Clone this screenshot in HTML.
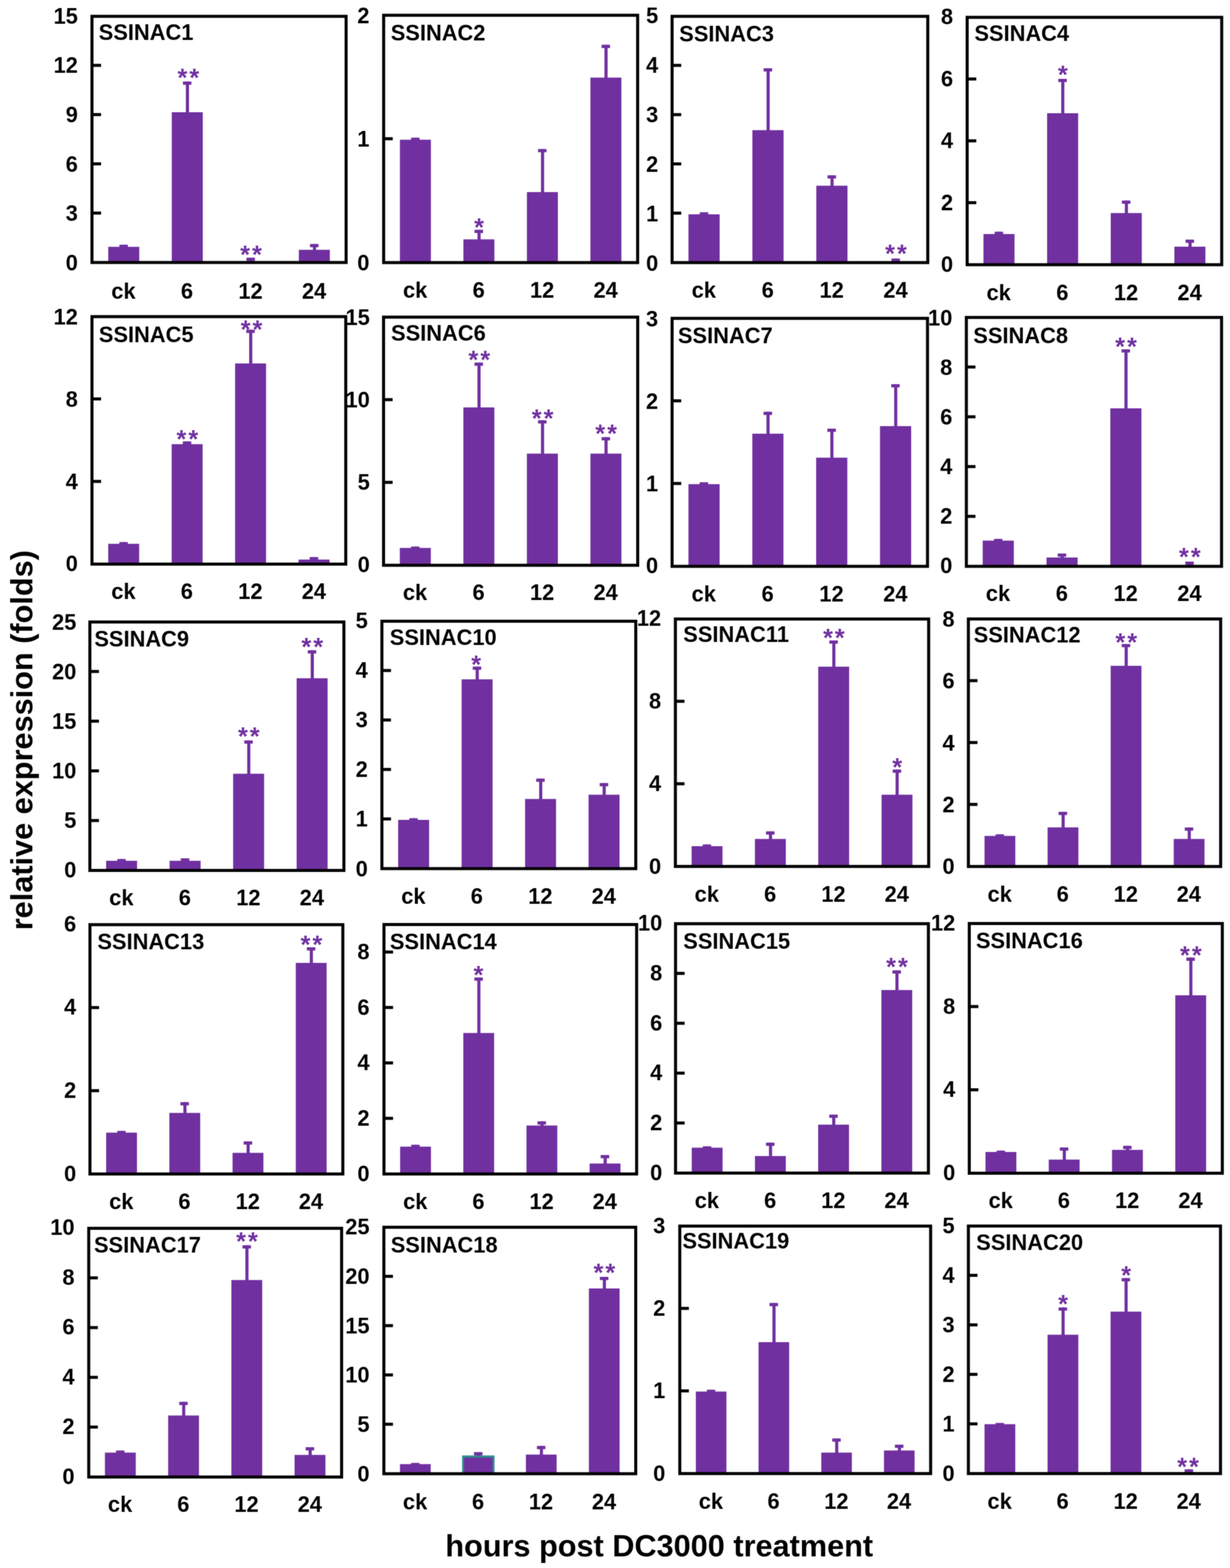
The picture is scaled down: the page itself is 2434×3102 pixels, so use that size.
<!DOCTYPE html>
<html lang="en"><head><meta charset="utf-8"><title>SSINAC expression after DC3000 treatment</title>
<style>html,body{margin:0;padding:0;background:#fff}body{width:2434px;height:3102px;overflow:hidden}svg{display:block}text{font-family:"Liberation Sans",sans-serif;font-weight:bold;fill:#000}.l{font-size:44.6px}.s{fill:#7030A0;font-size:50px;letter-spacing:4px}.a{font-size:60.7px}.p{fill:#7030A0}.k{fill:#000}.f{fill:none;stroke:#000;stroke-width:6}</style></head><body>
<svg width="2434" height="3102" viewBox="0 0 2434 3102">
<defs><filter id="soft" filterUnits="userSpaceOnUse" x="0" y="0" width="2434" height="3102" color-interpolation-filters="sRGB"><feConvolveMatrix order="3" kernelMatrix="1 2 1 2 4 2 1 2 1" divisor="16" edgeMode="duplicate" preserveAlpha="true"/></filter></defs>
<g filter="url(#soft)">
<rect width="2434" height="3102" fill="#fff"/>
<g id="p1">
<rect class="p" x="214.2" y="488.3" width="61.33" height="31"/>
<rect class="p" x="242.06" y="484.1" width="6.2" height="5.2"/>
<rect class="p" x="236.26" y="484.1" width="16.8" height="6.4"/>
<rect class="p" x="339.92" y="222" width="61.33" height="297.3"/>
<rect class="p" x="367.79" y="161.3" width="6.2" height="61.7"/>
<rect class="p" x="361.99" y="161.3" width="16.8" height="6.4"/>
<rect class="p" x="465.65" y="518" width="61.33" height="1.3"/>
<rect class="p" x="493.51" y="509.8" width="6.2" height="9.2"/>
<rect class="p" x="487.71" y="509.8" width="16.8" height="6.4"/>
<rect class="p" x="591.37" y="494.2" width="61.33" height="25.1"/>
<rect class="p" x="619.24" y="482.7" width="6.2" height="12.5"/>
<rect class="p" x="613.44" y="482.7" width="16.8" height="6.4"/>
<rect class="f" x="182" y="32.3" width="502.9" height="487"/>
<text class="l" transform="translate(154.15 534.81) scale(0.97 1)" text-anchor="end">0</text>
<rect class="k" x="184" y="418.5" width="16" height="6"/>
<text class="l" transform="translate(154.15 437.19) scale(0.97 1)" text-anchor="end">3</text>
<rect class="k" x="184" y="321.1" width="16" height="6"/>
<text class="l" transform="translate(154.15 339.57) scale(0.97 1)" text-anchor="end">6</text>
<rect class="k" x="184" y="223.7" width="16" height="6"/>
<text class="l" transform="translate(154.15 241.95) scale(0.97 1)" text-anchor="end">9</text>
<rect class="k" x="184" y="126.3" width="16" height="6"/>
<text class="l" transform="translate(154.15 144.33) scale(0.97 1)" text-anchor="end">12</text>
<text class="l" transform="translate(154.15 46.71) scale(0.97 1)" text-anchor="end">15</text>
<text class="l" transform="translate(195.3 79.24) scale(0.97 1)">SSINAC1</text>
<text class="l" transform="translate(244.36 590.61) scale(0.97 1)" text-anchor="middle">ck</text>
<text class="l" transform="translate(370.09 590.61) scale(0.97 1)" text-anchor="middle">6</text>
<text class="l" transform="translate(495.81 590.61) scale(0.97 1)" text-anchor="middle">12</text>
<text class="l" transform="translate(621.54 590.61) scale(0.97 1)" text-anchor="middle">24</text>
<text class="s" x="351.2" y="170.75">**</text>
<text class="s" x="475.21" y="521.05">**</text>
</g>
<g id="p2">
<rect class="p" x="791.38" y="276.4" width="61.29" height="243.1"/>
<rect class="p" x="819.23" y="272.4" width="6.2" height="5"/>
<rect class="p" x="813.43" y="272.4" width="16.8" height="6.4"/>
<rect class="p" x="917.03" y="473.5" width="61.29" height="46"/>
<rect class="p" x="944.87" y="454.6" width="6.2" height="19.9"/>
<rect class="p" x="939.07" y="454.6" width="16.8" height="6.4"/>
<rect class="p" x="1042.68" y="380" width="61.29" height="139.5"/>
<rect class="p" x="1070.53" y="294.8" width="6.2" height="86.2"/>
<rect class="p" x="1064.72" y="294.8" width="16.8" height="6.4"/>
<rect class="p" x="1168.33" y="153.5" width="61.29" height="366"/>
<rect class="p" x="1196.17" y="88.6" width="6.2" height="65.9"/>
<rect class="p" x="1190.37" y="88.6" width="16.8" height="6.4"/>
<rect class="f" x="759.2" y="30.2" width="502.6" height="489.3"/>
<text class="l" transform="translate(730.95 534.51) scale(0.97 1)" text-anchor="end">0</text>
<rect class="k" x="761.2" y="271.45" width="16" height="6"/>
<text class="l" transform="translate(730.95 290.41) scale(0.97 1)" text-anchor="end">1</text>
<text class="l" transform="translate(730.95 46.31) scale(0.97 1)" text-anchor="end">2</text>
<text class="l" transform="translate(773.2 80.04) scale(0.97 1)">SSINAC2</text>
<text class="l" transform="translate(821.53 589.01) scale(0.97 1)" text-anchor="middle">ck</text>
<text class="l" transform="translate(947.17 589.01) scale(0.97 1)" text-anchor="middle">6</text>
<text class="l" transform="translate(1072.83 589.01) scale(0.97 1)" text-anchor="middle">12</text>
<text class="l" transform="translate(1198.47 589.01) scale(0.97 1)" text-anchor="middle">24</text>
<text class="s" x="938.3" y="467.05">*</text>
</g>
<g id="p3">
<rect class="p" x="1362.39" y="424" width="61.7" height="95.5"/>
<rect class="p" x="1390.44" y="419.9" width="6.2" height="5.1"/>
<rect class="p" x="1384.64" y="419.9" width="16.8" height="6.4"/>
<rect class="p" x="1488.86" y="257.5" width="61.7" height="262"/>
<rect class="p" x="1516.91" y="135" width="6.2" height="123.5"/>
<rect class="p" x="1511.11" y="135" width="16.8" height="6.4"/>
<rect class="p" x="1615.34" y="367.4" width="61.7" height="152.1"/>
<rect class="p" x="1643.39" y="346.8" width="6.2" height="21.6"/>
<rect class="p" x="1637.59" y="346.8" width="16.8" height="6.4"/>
<rect class="p" x="1741.81" y="519" width="61.7" height="0.5"/>
<rect class="p" x="1769.86" y="511.5" width="6.2" height="8.5"/>
<rect class="p" x="1764.06" y="511.5" width="16.8" height="6.4"/>
<rect class="f" x="1330" y="32.3" width="505.9" height="487.2"/>
<text class="l" transform="translate(1302.45 535.71) scale(0.97 1)" text-anchor="end">0</text>
<rect class="k" x="1332" y="418.66" width="16" height="6"/>
<text class="l" transform="translate(1302.45 437.85) scale(0.97 1)" text-anchor="end">1</text>
<rect class="k" x="1332" y="321.22" width="16" height="6"/>
<text class="l" transform="translate(1302.45 339.99) scale(0.97 1)" text-anchor="end">2</text>
<rect class="k" x="1332" y="223.78" width="16" height="6"/>
<text class="l" transform="translate(1302.45 242.13) scale(0.97 1)" text-anchor="end">3</text>
<rect class="k" x="1332" y="126.34" width="16" height="6"/>
<text class="l" transform="translate(1302.45 144.27) scale(0.97 1)" text-anchor="end">4</text>
<text class="l" transform="translate(1302.45 46.41) scale(0.97 1)" text-anchor="end">5</text>
<text class="l" transform="translate(1344.1 81.64) scale(0.97 1)">SSINAC3</text>
<text class="l" transform="translate(1392.74 589.01) scale(0.97 1)" text-anchor="middle">ck</text>
<text class="l" transform="translate(1519.21 589.01) scale(0.97 1)" text-anchor="middle">6</text>
<text class="l" transform="translate(1645.69 589.01) scale(0.97 1)" text-anchor="middle">12</text>
<text class="l" transform="translate(1772.16 589.01) scale(0.97 1)" text-anchor="middle">24</text>
<text class="s" x="1751.56" y="519.05">**</text>
</g>
<g id="p4">
<rect class="p" x="1946.15" y="463" width="61.43" height="60.7"/>
<rect class="p" x="1974.06" y="458.4" width="6.2" height="5.6"/>
<rect class="p" x="1968.26" y="458.4" width="16.8" height="6.4"/>
<rect class="p" x="2072.07" y="224" width="61.43" height="299.7"/>
<rect class="p" x="2099.99" y="156" width="6.2" height="69"/>
<rect class="p" x="2094.19" y="156" width="16.8" height="6.4"/>
<rect class="p" x="2198" y="421.5" width="61.43" height="102.2"/>
<rect class="p" x="2225.91" y="396.7" width="6.2" height="25.8"/>
<rect class="p" x="2220.11" y="396.7" width="16.8" height="6.4"/>
<rect class="p" x="2323.92" y="488" width="61.43" height="35.7"/>
<rect class="p" x="2351.84" y="474" width="6.2" height="15"/>
<rect class="p" x="2346.04" y="474" width="16.8" height="6.4"/>
<rect class="f" x="1913.9" y="34.3" width="503.7" height="489.4"/>
<text class="l" transform="translate(1886.15 538.11) scale(0.97 1)" text-anchor="end">0</text>
<rect class="k" x="1915.9" y="397.95" width="16" height="6"/>
<text class="l" transform="translate(1886.15 415.61) scale(0.97 1)" text-anchor="end">2</text>
<rect class="k" x="1915.9" y="275.6" width="16" height="6"/>
<text class="l" transform="translate(1886.15 293.11) scale(0.97 1)" text-anchor="end">4</text>
<rect class="k" x="1915.9" y="153.25" width="16" height="6"/>
<text class="l" transform="translate(1886.15 170.61) scale(0.97 1)" text-anchor="end">6</text>
<text class="l" transform="translate(1886.15 48.11) scale(0.97 1)" text-anchor="end">8</text>
<text class="l" transform="translate(1928.2 81.04) scale(0.97 1)">SSINAC4</text>
<text class="l" transform="translate(1976.36 593.71) scale(0.97 1)" text-anchor="middle">ck</text>
<text class="l" transform="translate(2102.29 593.71) scale(0.97 1)" text-anchor="middle">6</text>
<text class="l" transform="translate(2228.21 593.71) scale(0.97 1)" text-anchor="middle">12</text>
<text class="l" transform="translate(2354.14 593.71) scale(0.97 1)" text-anchor="middle">24</text>
<text class="s" x="2093.41" y="164.55">*</text>
</g>
<g id="p5">
<rect class="p" x="214.15" y="1075.8" width="61.24" height="40.2"/>
<rect class="p" x="241.98" y="1072.4" width="6.2" height="4.4"/>
<rect class="p" x="236.18" y="1072.4" width="16.8" height="6.4"/>
<rect class="p" x="339.7" y="878.7" width="61.24" height="237.3"/>
<rect class="p" x="367.53" y="873.2" width="6.2" height="6.5"/>
<rect class="p" x="361.73" y="873.2" width="16.8" height="6.4"/>
<rect class="p" x="465.25" y="719" width="61.24" height="397"/>
<rect class="p" x="493.07" y="652.3" width="6.2" height="67.7"/>
<rect class="p" x="487.28" y="652.3" width="16.8" height="6.4"/>
<rect class="p" x="590.8" y="1107" width="61.24" height="9"/>
<rect class="p" x="618.62" y="1102" width="6.2" height="6"/>
<rect class="p" x="612.83" y="1102" width="16.8" height="6.4"/>
<rect class="f" x="182" y="626.4" width="502.2" height="489.6"/>
<text class="l" transform="translate(154.15 1130.31) scale(0.97 1)" text-anchor="end">0</text>
<rect class="k" x="184" y="949.4" width="16" height="6"/>
<text class="l" transform="translate(154.15 967.54) scale(0.97 1)" text-anchor="end">4</text>
<rect class="k" x="184" y="786.2" width="16" height="6"/>
<text class="l" transform="translate(154.15 804.78) scale(0.97 1)" text-anchor="end">8</text>
<text class="l" transform="translate(154.15 642.01) scale(0.97 1)" text-anchor="end">12</text>
<text class="l" transform="translate(195.6 676.64) scale(0.97 1)">SSINAC5</text>
<text class="l" transform="translate(244.28 1184.76) scale(0.97 1)" text-anchor="middle">ck</text>
<text class="l" transform="translate(369.83 1184.76) scale(0.97 1)" text-anchor="middle">6</text>
<text class="l" transform="translate(495.38 1184.76) scale(0.97 1)" text-anchor="middle">12</text>
<text class="l" transform="translate(620.93 1184.76) scale(0.97 1)" text-anchor="middle">24</text>
<text class="s" x="349.23" y="886.05">**</text>
<text class="s" x="476.2" y="669.15">**</text>
</g>
<g id="p6">
<rect class="p" x="791.2" y="1084" width="61.33" height="34.3"/>
<rect class="p" x="819.06" y="1081.2" width="6.2" height="3.8"/>
<rect class="p" x="813.26" y="1081.2" width="16.8" height="6.4"/>
<rect class="p" x="916.92" y="806" width="61.33" height="312.3"/>
<rect class="p" x="944.79" y="717.3" width="6.2" height="89.7"/>
<rect class="p" x="938.99" y="717.3" width="16.8" height="6.4"/>
<rect class="p" x="1042.65" y="897.4" width="61.33" height="220.9"/>
<rect class="p" x="1070.51" y="831.4" width="6.2" height="67"/>
<rect class="p" x="1064.71" y="831.4" width="16.8" height="6.4"/>
<rect class="p" x="1168.37" y="897.4" width="61.33" height="220.9"/>
<rect class="p" x="1196.24" y="864.8" width="6.2" height="33.6"/>
<rect class="p" x="1190.44" y="864.8" width="16.8" height="6.4"/>
<rect class="f" x="759" y="627.4" width="502.9" height="490.9"/>
<text class="l" transform="translate(731.85 1131.81) scale(0.97 1)" text-anchor="end">0</text>
<rect class="k" x="761" y="951.27" width="16" height="6"/>
<text class="l" transform="translate(731.85 968.71) scale(0.97 1)" text-anchor="end">5</text>
<rect class="k" x="761" y="787.63" width="16" height="6"/>
<text class="l" transform="translate(731.85 805.61) scale(0.97 1)" text-anchor="end">10</text>
<text class="l" transform="translate(731.85 642.51) scale(0.97 1)" text-anchor="end">15</text>
<text class="l" transform="translate(773.8 673.74) scale(0.97 1)">SSINAC6</text>
<text class="l" transform="translate(821.36 1186.66) scale(0.97 1)" text-anchor="middle">ck</text>
<text class="l" transform="translate(947.09 1186.66) scale(0.97 1)" text-anchor="middle">6</text>
<text class="l" transform="translate(1072.81 1186.66) scale(0.97 1)" text-anchor="middle">12</text>
<text class="l" transform="translate(1198.54 1186.66) scale(0.97 1)" text-anchor="middle">24</text>
<text class="s" x="927" y="728.85">**</text>
<text class="s" x="1052.21" y="844.85">**</text>
<text class="s" x="1177.94" y="875.05">**</text>
</g>
<g id="p7">
<rect class="p" x="1362.36" y="957.8" width="61.63" height="162.6"/>
<rect class="p" x="1390.38" y="954" width="6.2" height="4.8"/>
<rect class="p" x="1384.57" y="954" width="16.8" height="6.4"/>
<rect class="p" x="1488.71" y="858" width="61.63" height="262.4"/>
<rect class="p" x="1516.73" y="814.6" width="6.2" height="44.4"/>
<rect class="p" x="1510.92" y="814.6" width="16.8" height="6.4"/>
<rect class="p" x="1615.06" y="905.4" width="61.63" height="215"/>
<rect class="p" x="1643.08" y="848" width="6.2" height="58.4"/>
<rect class="p" x="1637.27" y="848" width="16.8" height="6.4"/>
<rect class="p" x="1741.41" y="843" width="61.63" height="277.4"/>
<rect class="p" x="1769.43" y="760" width="6.2" height="84"/>
<rect class="p" x="1763.62" y="760" width="16.8" height="6.4"/>
<rect class="f" x="1330" y="629.8" width="505.4" height="490.6"/>
<text class="l" transform="translate(1302.25 1134.41) scale(0.97 1)" text-anchor="end">0</text>
<rect class="k" x="1332" y="953.47" width="16" height="6"/>
<text class="l" transform="translate(1302.25 971.64) scale(0.97 1)" text-anchor="end">1</text>
<rect class="k" x="1332" y="789.93" width="16" height="6"/>
<text class="l" transform="translate(1302.25 808.88) scale(0.97 1)" text-anchor="end">2</text>
<text class="l" transform="translate(1302.25 646.11) scale(0.97 1)" text-anchor="end">3</text>
<text class="l" transform="translate(1341.5 678.54) scale(0.97 1)">SSINAC7</text>
<text class="l" transform="translate(1392.67 1189.51) scale(0.97 1)" text-anchor="middle">ck</text>
<text class="l" transform="translate(1519.03 1189.51) scale(0.97 1)" text-anchor="middle">6</text>
<text class="l" transform="translate(1645.38 1189.51) scale(0.97 1)" text-anchor="middle">12</text>
<text class="l" transform="translate(1771.73 1189.51) scale(0.97 1)" text-anchor="middle">24</text>
</g>
<g id="p8">
<rect class="p" x="1944.63" y="1069.5" width="61.59" height="50.9"/>
<rect class="p" x="1972.62" y="1066.1" width="6.2" height="4.4"/>
<rect class="p" x="1966.82" y="1066.1" width="16.8" height="6.4"/>
<rect class="p" x="2070.88" y="1102.9" width="61.59" height="17.5"/>
<rect class="p" x="2098.88" y="1095" width="6.2" height="8.9"/>
<rect class="p" x="2093.08" y="1095" width="16.8" height="6.4"/>
<rect class="p" x="2197.13" y="807.8" width="61.59" height="312.6"/>
<rect class="p" x="2225.13" y="691" width="6.2" height="117.8"/>
<rect class="p" x="2219.33" y="691" width="16.8" height="6.4"/>
<rect class="p" x="2323.38" y="1120" width="61.59" height="0.4"/>
<rect class="p" x="2351.38" y="1111" width="6.2" height="10"/>
<rect class="p" x="2345.58" y="1111" width="16.8" height="6.4"/>
<rect class="f" x="1912.3" y="628" width="505" height="492.4"/>
<text class="l" transform="translate(1884.55 1134.41) scale(0.97 1)" text-anchor="end">0</text>
<rect class="k" x="1914.3" y="1018.52" width="16" height="6"/>
<text class="l" transform="translate(1884.55 1036.25) scale(0.97 1)" text-anchor="end">2</text>
<rect class="k" x="1914.3" y="920.04" width="16" height="6"/>
<text class="l" transform="translate(1884.55 938.09) scale(0.97 1)" text-anchor="end">4</text>
<rect class="k" x="1914.3" y="821.56" width="16" height="6"/>
<text class="l" transform="translate(1884.55 839.93) scale(0.97 1)" text-anchor="end">6</text>
<rect class="k" x="1914.3" y="723.08" width="16" height="6"/>
<text class="l" transform="translate(1884.55 741.77) scale(0.97 1)" text-anchor="end">8</text>
<text class="l" transform="translate(1884.55 643.61) scale(0.97 1)" text-anchor="end">10</text>
<text class="l" transform="translate(1926.1 678.54) scale(0.97 1)">SSINAC8</text>
<text class="l" transform="translate(1974.92 1188.71) scale(0.97 1)" text-anchor="middle">ck</text>
<text class="l" transform="translate(2101.18 1188.71) scale(0.97 1)" text-anchor="middle">6</text>
<text class="l" transform="translate(2227.43 1188.71) scale(0.97 1)" text-anchor="middle">12</text>
<text class="l" transform="translate(2353.68 1188.71) scale(0.97 1)" text-anchor="middle">24</text>
<text class="s" x="2206.83" y="703.15">**</text>
<text class="s" x="2333.08" y="1118.85">**</text>
</g>
<g id="p9">
<rect class="p" x="209.99" y="1702.9" width="61.3" height="19.1"/>
<rect class="p" x="237.84" y="1699.4" width="6.2" height="4.5"/>
<rect class="p" x="232.04" y="1699.4" width="16.8" height="6.4"/>
<rect class="p" x="335.66" y="1702.9" width="61.3" height="19.1"/>
<rect class="p" x="363.51" y="1698" width="6.2" height="5.9"/>
<rect class="p" x="357.71" y="1698" width="16.8" height="6.4"/>
<rect class="p" x="461.34" y="1530.7" width="61.3" height="191.3"/>
<rect class="p" x="489.19" y="1464.8" width="6.2" height="66.9"/>
<rect class="p" x="483.39" y="1464.8" width="16.8" height="6.4"/>
<rect class="p" x="587.01" y="1341.8" width="61.3" height="380.2"/>
<rect class="p" x="614.86" y="1286.4" width="6.2" height="56.4"/>
<rect class="p" x="609.06" y="1286.4" width="16.8" height="6.4"/>
<rect class="f" x="177.8" y="1230.5" width="502.7" height="491.5"/>
<text class="l" transform="translate(151.15 1736.41) scale(0.97 1)" text-anchor="end">0</text>
<rect class="k" x="179.8" y="1620.3" width="16" height="6"/>
<text class="l" transform="translate(151.15 1638.23) scale(0.97 1)" text-anchor="end">5</text>
<rect class="k" x="179.8" y="1522" width="16" height="6"/>
<text class="l" transform="translate(151.15 1540.05) scale(0.97 1)" text-anchor="end">10</text>
<rect class="k" x="179.8" y="1423.7" width="16" height="6"/>
<text class="l" transform="translate(151.15 1441.87) scale(0.97 1)" text-anchor="end">15</text>
<rect class="k" x="179.8" y="1325.4" width="16" height="6"/>
<text class="l" transform="translate(151.15 1343.69) scale(0.97 1)" text-anchor="end">20</text>
<text class="l" transform="translate(151.15 1245.51) scale(0.97 1)" text-anchor="end">25</text>
<text class="l" transform="translate(186.7 1278.94) scale(0.97 1)">SSINAC9</text>
<text class="l" transform="translate(240.14 1790.56) scale(0.97 1)" text-anchor="middle">ck</text>
<text class="l" transform="translate(365.81 1790.56) scale(0.97 1)" text-anchor="middle">6</text>
<text class="l" transform="translate(491.49 1790.56) scale(0.97 1)" text-anchor="middle">12</text>
<text class="l" transform="translate(617.16 1790.56) scale(0.97 1)" text-anchor="middle">24</text>
<text class="s" x="470.89" y="1474.05">**</text>
<text class="s" x="596.56" y="1296.55">**</text>
</g>
<g id="p10">
<rect class="p" x="787.87" y="1622" width="61.27" height="96.4"/>
<rect class="p" x="815.7" y="1618.7" width="6.2" height="4.3"/>
<rect class="p" x="809.9" y="1618.7" width="16.8" height="6.4"/>
<rect class="p" x="913.47" y="1343.9" width="61.27" height="374.5"/>
<rect class="p" x="941.3" y="1318.7" width="6.2" height="26.2"/>
<rect class="p" x="935.5" y="1318.7" width="16.8" height="6.4"/>
<rect class="p" x="1039.07" y="1580.6" width="61.27" height="137.8"/>
<rect class="p" x="1066.9" y="1540.3" width="6.2" height="41.3"/>
<rect class="p" x="1061.1" y="1540.3" width="16.8" height="6.4"/>
<rect class="p" x="1164.67" y="1572.2" width="61.27" height="146.2"/>
<rect class="p" x="1192.5" y="1549.1" width="6.2" height="24.1"/>
<rect class="p" x="1186.7" y="1549.1" width="16.8" height="6.4"/>
<rect class="f" x="755.7" y="1229" width="502.4" height="489.4"/>
<text class="l" transform="translate(727.85 1733.71) scale(0.97 1)" text-anchor="end">0</text>
<rect class="k" x="757.7" y="1617.12" width="16" height="6"/>
<text class="l" transform="translate(727.85 1635.47) scale(0.97 1)" text-anchor="end">1</text>
<rect class="k" x="757.7" y="1519.24" width="16" height="6"/>
<text class="l" transform="translate(727.85 1537.23) scale(0.97 1)" text-anchor="end">2</text>
<rect class="k" x="757.7" y="1421.36" width="16" height="6"/>
<text class="l" transform="translate(727.85 1438.99) scale(0.97 1)" text-anchor="end">3</text>
<rect class="k" x="757.7" y="1323.48" width="16" height="6"/>
<text class="l" transform="translate(727.85 1340.75) scale(0.97 1)" text-anchor="end">4</text>
<text class="l" transform="translate(727.85 1242.51) scale(0.97 1)" text-anchor="end">5</text>
<text class="l" transform="translate(771.3 1275.84) scale(0.97 1)">SSINAC10</text>
<text class="l" transform="translate(818 1787.96) scale(0.97 1)" text-anchor="middle">ck</text>
<text class="l" transform="translate(943.6 1787.96) scale(0.97 1)" text-anchor="middle">6</text>
<text class="l" transform="translate(1069.2 1787.96) scale(0.97 1)" text-anchor="middle">12</text>
<text class="l" transform="translate(1194.8 1787.96) scale(0.97 1)" text-anchor="middle">24</text>
<text class="s" x="932.53" y="1331.55">*</text>
</g>
<g id="p11">
<rect class="p" x="1368.59" y="1674" width="61.12" height="40.1"/>
<rect class="p" x="1396.35" y="1670.6" width="6.2" height="4.4"/>
<rect class="p" x="1390.55" y="1670.6" width="16.8" height="6.4"/>
<rect class="p" x="1493.89" y="1659.7" width="61.12" height="54.4"/>
<rect class="p" x="1521.65" y="1644.7" width="6.2" height="16"/>
<rect class="p" x="1515.85" y="1644.7" width="16.8" height="6.4"/>
<rect class="p" x="1619.19" y="1318.9" width="61.12" height="395.2"/>
<rect class="p" x="1646.95" y="1267" width="6.2" height="52.9"/>
<rect class="p" x="1641.15" y="1267" width="16.8" height="6.4"/>
<rect class="p" x="1744.49" y="1572.2" width="61.12" height="141.9"/>
<rect class="p" x="1772.25" y="1522.4" width="6.2" height="50.8"/>
<rect class="p" x="1766.45" y="1522.4" width="16.8" height="6.4"/>
<rect class="f" x="1336.5" y="1224.6" width="501.2" height="489.5"/>
<text class="l" transform="translate(1308.25 1729.21) scale(0.97 1)" text-anchor="end">0</text>
<rect class="k" x="1338.5" y="1547.53" width="16" height="6"/>
<text class="l" transform="translate(1308.25 1565.38) scale(0.97 1)" text-anchor="end">4</text>
<rect class="k" x="1338.5" y="1384.37" width="16" height="6"/>
<text class="l" transform="translate(1308.25 1401.54) scale(0.97 1)" text-anchor="end">8</text>
<text class="l" transform="translate(1308.25 1237.71) scale(0.97 1)" text-anchor="end">12</text>
<text class="l" transform="translate(1352.1 1270.34) scale(0.97 1)">SSINAC11</text>
<text class="l" transform="translate(1398.65 1784.01) scale(0.97 1)" text-anchor="middle">ck</text>
<text class="l" transform="translate(1523.95 1784.01) scale(0.97 1)" text-anchor="middle">6</text>
<text class="l" transform="translate(1649.25 1784.01) scale(0.97 1)" text-anchor="middle">12</text>
<text class="l" transform="translate(1774.55 1784.01) scale(0.97 1)" text-anchor="middle">24</text>
<text class="s" x="1628.65" y="1279.45">**</text>
<text class="s" x="1765.68" y="1535.45">*</text>
</g>
<g id="p12">
<rect class="p" x="1948.26" y="1653.7" width="60.88" height="60.5"/>
<rect class="p" x="1975.9" y="1650.6" width="6.2" height="4.1"/>
<rect class="p" x="1970.1" y="1650.6" width="16.8" height="6.4"/>
<rect class="p" x="2073.06" y="1636.8" width="60.88" height="77.4"/>
<rect class="p" x="2100.7" y="1606" width="6.2" height="31.8"/>
<rect class="p" x="2094.9" y="1606" width="16.8" height="6.4"/>
<rect class="p" x="2197.86" y="1317.2" width="60.88" height="397"/>
<rect class="p" x="2225.5" y="1274" width="6.2" height="44.2"/>
<rect class="p" x="2219.7" y="1274" width="16.8" height="6.4"/>
<rect class="p" x="2322.66" y="1659.7" width="60.88" height="54.5"/>
<rect class="p" x="2350.3" y="1637" width="6.2" height="23.7"/>
<rect class="p" x="2344.5" y="1637" width="16.8" height="6.4"/>
<rect class="f" x="1916.3" y="1224.5" width="499.2" height="489.7"/>
<text class="l" transform="translate(1889.05 1729.01) scale(0.97 1)" text-anchor="end">0</text>
<rect class="k" x="1918.3" y="1588.38" width="16" height="6"/>
<text class="l" transform="translate(1889.05 1606.78) scale(0.97 1)" text-anchor="end">2</text>
<rect class="k" x="1918.3" y="1465.95" width="16" height="6"/>
<text class="l" transform="translate(1889.05 1484.56) scale(0.97 1)" text-anchor="end">4</text>
<rect class="k" x="1918.3" y="1343.52" width="16" height="6"/>
<text class="l" transform="translate(1889.05 1362.33) scale(0.97 1)" text-anchor="end">6</text>
<text class="l" transform="translate(1889.05 1240.11) scale(0.97 1)" text-anchor="end">8</text>
<text class="l" transform="translate(1926.8 1270.84) scale(0.97 1)">SSINAC12</text>
<text class="l" transform="translate(1978.2 1783.51) scale(0.97 1)" text-anchor="middle">ck</text>
<text class="l" transform="translate(2103 1783.51) scale(0.97 1)" text-anchor="middle">6</text>
<text class="l" transform="translate(2227.8 1783.51) scale(0.97 1)" text-anchor="middle">12</text>
<text class="l" transform="translate(2352.6 1783.51) scale(0.97 1)" text-anchor="middle">24</text>
<text class="s" x="2207.2" y="1287.75">**</text>
</g>
<g id="p13">
<rect class="p" x="210.04" y="2240.7" width="61.02" height="81.8"/>
<rect class="p" x="237.75" y="2237.3" width="6.2" height="4.4"/>
<rect class="p" x="231.95" y="2237.3" width="16.8" height="6.4"/>
<rect class="p" x="335.14" y="2201.7" width="61.02" height="120.8"/>
<rect class="p" x="362.85" y="2180.4" width="6.2" height="22.3"/>
<rect class="p" x="357.05" y="2180.4" width="16.8" height="6.4"/>
<rect class="p" x="460.24" y="2280.7" width="61.02" height="41.8"/>
<rect class="p" x="487.95" y="2258" width="6.2" height="23.7"/>
<rect class="p" x="482.15" y="2258" width="16.8" height="6.4"/>
<rect class="p" x="585.34" y="1904.9" width="61.02" height="417.6"/>
<rect class="p" x="613.05" y="1874" width="6.2" height="31.9"/>
<rect class="p" x="607.25" y="1874" width="16.8" height="6.4"/>
<rect class="f" x="178" y="1829.3" width="500.4" height="493.2"/>
<text class="l" transform="translate(150.85 2336.61) scale(0.97 1)" text-anchor="end">0</text>
<rect class="k" x="180" y="2154.7" width="16" height="6"/>
<text class="l" transform="translate(150.85 2172.04) scale(0.97 1)" text-anchor="end">2</text>
<rect class="k" x="180" y="1990.3" width="16" height="6"/>
<text class="l" transform="translate(150.85 2007.48) scale(0.97 1)" text-anchor="end">4</text>
<text class="l" transform="translate(150.85 1842.91) scale(0.97 1)" text-anchor="end">6</text>
<text class="l" transform="translate(192.7 1877.84) scale(0.97 1)">SSINAC13</text>
<text class="l" transform="translate(240.05 2391.71) scale(0.97 1)" text-anchor="middle">ck</text>
<text class="l" transform="translate(365.15 2391.71) scale(0.97 1)" text-anchor="middle">6</text>
<text class="l" transform="translate(490.25 2391.71) scale(0.97 1)" text-anchor="middle">12</text>
<text class="l" transform="translate(615.35 2391.71) scale(0.97 1)" text-anchor="middle">24</text>
<text class="s" x="594.75" y="1886.05">**</text>
</g>
<g id="p14">
<rect class="p" x="791.81" y="2268.4" width="60.98" height="54.1"/>
<rect class="p" x="819.5" y="2264.7" width="6.2" height="4.7"/>
<rect class="p" x="813.7" y="2264.7" width="16.8" height="6.4"/>
<rect class="p" x="916.81" y="2043.6" width="60.98" height="278.9"/>
<rect class="p" x="944.5" y="1933.8" width="6.2" height="110.8"/>
<rect class="p" x="938.7" y="1933.8" width="16.8" height="6.4"/>
<rect class="p" x="1041.81" y="2226.6" width="60.98" height="95.9"/>
<rect class="p" x="1069.5" y="2218.3" width="6.2" height="9.3"/>
<rect class="p" x="1063.7" y="2218.3" width="16.8" height="6.4"/>
<rect class="p" x="1166.81" y="2301.8" width="60.98" height="20.7"/>
<rect class="p" x="1194.5" y="2285" width="6.2" height="17.8"/>
<rect class="p" x="1188.7" y="2285" width="16.8" height="6.4"/>
<rect class="f" x="759.8" y="1829" width="500" height="493.5"/>
<text class="l" transform="translate(731.25 2336.61) scale(0.97 1)" text-anchor="end">0</text>
<rect class="k" x="761.8" y="2209.43" width="16" height="6"/>
<text class="l" transform="translate(731.25 2226.96) scale(0.97 1)" text-anchor="end">2</text>
<rect class="k" x="761.8" y="2099.77" width="16" height="6"/>
<text class="l" transform="translate(731.25 2117.32) scale(0.97 1)" text-anchor="end">4</text>
<rect class="k" x="761.8" y="1990.1" width="16" height="6"/>
<text class="l" transform="translate(731.25 2007.68) scale(0.97 1)" text-anchor="end">6</text>
<rect class="k" x="761.8" y="1880.43" width="16" height="6"/>
<text class="l" transform="translate(731.25 1898.03) scale(0.97 1)" text-anchor="end">8</text>
<text class="l" transform="translate(771.5 1878.04) scale(0.97 1)">SSINAC14</text>
<text class="l" transform="translate(821.8 2391.71) scale(0.97 1)" text-anchor="middle">ck</text>
<text class="l" transform="translate(946.8 2391.71) scale(0.97 1)" text-anchor="middle">6</text>
<text class="l" transform="translate(1071.8 2391.71) scale(0.97 1)" text-anchor="middle">12</text>
<text class="l" transform="translate(1196.8 2391.71) scale(0.97 1)" text-anchor="middle">24</text>
<text class="s" x="936.93" y="1945.75">*</text>
</g>
<g id="p15">
<rect class="p" x="1368.84" y="2270.5" width="61.02" height="50.2"/>
<rect class="p" x="1396.55" y="2267.8" width="6.2" height="3.7"/>
<rect class="p" x="1390.75" y="2267.8" width="16.8" height="6.4"/>
<rect class="p" x="1493.94" y="2287" width="61.02" height="33.7"/>
<rect class="p" x="1521.65" y="2260.5" width="6.2" height="27.5"/>
<rect class="p" x="1515.85" y="2260.5" width="16.8" height="6.4"/>
<rect class="p" x="1619.04" y="2224.9" width="61.02" height="95.8"/>
<rect class="p" x="1646.75" y="2205" width="6.2" height="20.9"/>
<rect class="p" x="1640.95" y="2205" width="16.8" height="6.4"/>
<rect class="p" x="1744.14" y="1958.6" width="61.02" height="362.1"/>
<rect class="p" x="1771.85" y="1919.7" width="6.2" height="39.9"/>
<rect class="p" x="1766.05" y="1919.7" width="16.8" height="6.4"/>
<rect class="f" x="1336.8" y="1827.4" width="500.4" height="493.3"/>
<text class="l" transform="translate(1310.55 2334.81) scale(0.97 1)" text-anchor="end">0</text>
<rect class="k" x="1338.8" y="2218.64" width="16" height="6"/>
<text class="l" transform="translate(1310.55 2236.13) scale(0.97 1)" text-anchor="end">2</text>
<rect class="k" x="1338.8" y="2119.98" width="16" height="6"/>
<text class="l" transform="translate(1310.55 2137.45) scale(0.97 1)" text-anchor="end">4</text>
<rect class="k" x="1338.8" y="2021.32" width="16" height="6"/>
<text class="l" transform="translate(1310.55 2038.77) scale(0.97 1)" text-anchor="end">6</text>
<rect class="k" x="1338.8" y="1922.66" width="16" height="6"/>
<text class="l" transform="translate(1310.55 1940.09) scale(0.97 1)" text-anchor="end">8</text>
<text class="l" transform="translate(1310.55 1841.41) scale(0.97 1)" text-anchor="end">10</text>
<text class="l" transform="translate(1352.1 1877.14) scale(0.97 1)">SSINAC15</text>
<text class="l" transform="translate(1398.85 2389.91) scale(0.97 1)" text-anchor="middle">ck</text>
<text class="l" transform="translate(1523.95 2389.91) scale(0.97 1)" text-anchor="middle">6</text>
<text class="l" transform="translate(1649.05 2389.91) scale(0.97 1)" text-anchor="middle">12</text>
<text class="l" transform="translate(1774.15 2389.91) scale(0.97 1)" text-anchor="middle">24</text>
<text class="s" x="1753.55" y="1930.05">**</text>
</g>
<g id="p16">
<rect class="p" x="1950.16" y="2279" width="61.06" height="42"/>
<rect class="p" x="1977.89" y="2276.3" width="6.2" height="3.7"/>
<rect class="p" x="1972.09" y="2276.3" width="16.8" height="6.4"/>
<rect class="p" x="2075.33" y="2294" width="61.06" height="27"/>
<rect class="p" x="2103.06" y="2270" width="6.2" height="25"/>
<rect class="p" x="2097.26" y="2270" width="16.8" height="6.4"/>
<rect class="p" x="2200.51" y="2274.8" width="61.06" height="46.2"/>
<rect class="p" x="2228.24" y="2266.8" width="6.2" height="9"/>
<rect class="p" x="2222.44" y="2266.8" width="16.8" height="6.4"/>
<rect class="p" x="2325.68" y="1969" width="61.06" height="352"/>
<rect class="p" x="2353.41" y="1894.4" width="6.2" height="75.6"/>
<rect class="p" x="2347.61" y="1894.4" width="16.8" height="6.4"/>
<rect class="f" x="1918.1" y="1827" width="500.7" height="494"/>
<text class="l" transform="translate(1890.35 2334.81) scale(0.97 1)" text-anchor="end">0</text>
<rect class="k" x="1920.1" y="2152.93" width="16" height="6"/>
<text class="l" transform="translate(1890.35 2170.34) scale(0.97 1)" text-anchor="end">4</text>
<rect class="k" x="1920.1" y="1988.27" width="16" height="6"/>
<text class="l" transform="translate(1890.35 2005.88) scale(0.97 1)" text-anchor="end">8</text>
<text class="l" transform="translate(1890.35 1841.41) scale(0.97 1)" text-anchor="end">12</text>
<text class="l" transform="translate(1931.2 1875.84) scale(0.97 1)">SSINAC16</text>
<text class="l" transform="translate(1980.19 2389.61) scale(0.97 1)" text-anchor="middle">ck</text>
<text class="l" transform="translate(2105.36 2389.61) scale(0.97 1)" text-anchor="middle">6</text>
<text class="l" transform="translate(2230.54 2389.61) scale(0.97 1)" text-anchor="middle">12</text>
<text class="l" transform="translate(2355.71 2389.61) scale(0.97 1)" text-anchor="middle">24</text>
<text class="s" x="2335.11" y="1907.05">**</text>
</g>
<g id="p17">
<rect class="p" x="207.64" y="2873.7" width="61.02" height="48.3"/>
<rect class="p" x="235.35" y="2869.6" width="6.2" height="5.1"/>
<rect class="p" x="229.55" y="2869.6" width="16.8" height="6.4"/>
<rect class="p" x="332.74" y="2800.3" width="61.02" height="121.7"/>
<rect class="p" x="360.45" y="2773.3" width="6.2" height="28"/>
<rect class="p" x="354.65" y="2773.3" width="16.8" height="6.4"/>
<rect class="p" x="457.84" y="2532.3" width="61.02" height="389.7"/>
<rect class="p" x="485.55" y="2463.5" width="6.2" height="69.8"/>
<rect class="p" x="479.75" y="2463.5" width="16.8" height="6.4"/>
<rect class="p" x="582.94" y="2878.3" width="61.02" height="43.7"/>
<rect class="p" x="610.65" y="2863" width="6.2" height="16.3"/>
<rect class="p" x="604.85" y="2863" width="16.8" height="6.4"/>
<rect class="f" x="175.6" y="2430" width="500.4" height="492"/>
<text class="l" transform="translate(147.55 2935.51) scale(0.97 1)" text-anchor="end">0</text>
<rect class="k" x="177.6" y="2820.2" width="16" height="6"/>
<text class="l" transform="translate(147.55 2837.09) scale(0.97 1)" text-anchor="end">2</text>
<rect class="k" x="177.6" y="2721.8" width="16" height="6"/>
<text class="l" transform="translate(147.55 2738.67) scale(0.97 1)" text-anchor="end">4</text>
<rect class="k" x="177.6" y="2623.4" width="16" height="6"/>
<text class="l" transform="translate(147.55 2640.25) scale(0.97 1)" text-anchor="end">6</text>
<rect class="k" x="177.6" y="2525" width="16" height="6"/>
<text class="l" transform="translate(147.55 2541.83) scale(0.97 1)" text-anchor="end">8</text>
<text class="l" transform="translate(147.55 2443.41) scale(0.97 1)" text-anchor="end">10</text>
<text class="l" transform="translate(186 2478.04) scale(0.97 1)">SSINAC17</text>
<text class="l" transform="translate(237.65 2991.46) scale(0.97 1)" text-anchor="middle">ck</text>
<text class="l" transform="translate(362.75 2991.46) scale(0.97 1)" text-anchor="middle">6</text>
<text class="l" transform="translate(487.85 2991.46) scale(0.97 1)" text-anchor="middle">12</text>
<text class="l" transform="translate(612.95 2991.46) scale(0.97 1)" text-anchor="middle">24</text>
<text class="s" x="467.25" y="2472.75">**</text>
</g>
<g id="p18">
<rect class="p" x="791.51" y="2896.5" width="60.78" height="19"/>
<rect class="p" x="819.1" y="2894.2" width="6.2" height="3.3"/>
<rect class="p" x="813.3" y="2894.2" width="16.8" height="6.4"/>
<rect x="914.4" y="2879.3" width="64.2" height="36.2" fill="#2B8F8F"/>
<rect class="p" x="918.2" y="2883.5" width="56.6" height="32"/>
<rect class="p" x="943.7" y="2872.8" width="6.2" height="7.5"/>
<rect class="p" x="937.9" y="2872.8" width="16.8" height="6.4"/>
<rect class="p" x="1040.71" y="2877.6" width="60.78" height="37.9"/>
<rect class="p" x="1068.3" y="2860.5" width="6.2" height="18.1"/>
<rect class="p" x="1062.5" y="2860.5" width="16.8" height="6.4"/>
<rect class="p" x="1165.31" y="2549" width="60.78" height="366.5"/>
<rect class="p" x="1192.9" y="2526" width="6.2" height="24"/>
<rect class="p" x="1187.1" y="2526" width="16.8" height="6.4"/>
<rect class="f" x="759.6" y="2427.9" width="498.4" height="487.6"/>
<text class="l" transform="translate(731.25 2930.91) scale(0.97 1)" text-anchor="end">0</text>
<rect class="k" x="761.6" y="2814.58" width="16" height="6"/>
<text class="l" transform="translate(731.25 2833.11) scale(0.97 1)" text-anchor="end">5</text>
<rect class="k" x="761.6" y="2717.06" width="16" height="6"/>
<text class="l" transform="translate(731.25 2735.31) scale(0.97 1)" text-anchor="end">10</text>
<rect class="k" x="761.6" y="2619.54" width="16" height="6"/>
<text class="l" transform="translate(731.25 2637.51) scale(0.97 1)" text-anchor="end">15</text>
<rect class="k" x="761.6" y="2522.02" width="16" height="6"/>
<text class="l" transform="translate(731.25 2539.71) scale(0.97 1)" text-anchor="end">20</text>
<text class="l" transform="translate(731.25 2441.91) scale(0.97 1)" text-anchor="end">25</text>
<text class="l" transform="translate(773.2 2478.34) scale(0.97 1)">SSINAC18</text>
<text class="l" transform="translate(821.4 2985.51) scale(0.97 1)" text-anchor="middle">ck</text>
<text class="l" transform="translate(946 2985.51) scale(0.97 1)" text-anchor="middle">6</text>
<text class="l" transform="translate(1070.6 2985.51) scale(0.97 1)" text-anchor="middle">12</text>
<text class="l" transform="translate(1195.2 2985.51) scale(0.97 1)" text-anchor="middle">24</text>
<text class="s" x="1174.6" y="2535.05">**</text>
</g>
<g id="p19">
<rect class="p" x="1376.98" y="2752.9" width="60.54" height="162.3"/>
<rect class="p" x="1404.45" y="2749.4" width="6.2" height="4.5"/>
<rect class="p" x="1398.65" y="2749.4" width="16.8" height="6.4"/>
<rect class="p" x="1501.08" y="2655.2" width="60.54" height="260"/>
<rect class="p" x="1528.55" y="2577.7" width="6.2" height="78.5"/>
<rect class="p" x="1522.75" y="2577.7" width="16.8" height="6.4"/>
<rect class="p" x="1625.18" y="2873.7" width="60.54" height="41.5"/>
<rect class="p" x="1652.65" y="2845.7" width="6.2" height="29"/>
<rect class="p" x="1646.85" y="2845.7" width="16.8" height="6.4"/>
<rect class="p" x="1749.28" y="2869.5" width="60.54" height="45.7"/>
<rect class="p" x="1776.75" y="2858" width="6.2" height="12.5"/>
<rect class="p" x="1770.95" y="2858" width="16.8" height="6.4"/>
<rect class="f" x="1345.2" y="2425.6" width="496.4" height="489.6"/>
<text class="l" transform="translate(1316.65 2929.61) scale(0.97 1)" text-anchor="end">0</text>
<rect class="k" x="1347.2" y="2748.6" width="16" height="6"/>
<text class="l" transform="translate(1316.65 2766.34) scale(0.97 1)" text-anchor="end">1</text>
<rect class="k" x="1347.2" y="2585.4" width="16" height="6"/>
<text class="l" transform="translate(1316.65 2603.08) scale(0.97 1)" text-anchor="end">2</text>
<text class="l" transform="translate(1316.65 2439.81) scale(0.97 1)" text-anchor="end">3</text>
<text class="l" transform="translate(1350.4 2469.64) scale(0.97 1)">SSINAC19</text>
<text class="l" transform="translate(1406.75 2984.56) scale(0.97 1)" text-anchor="middle">ck</text>
<text class="l" transform="translate(1530.85 2984.56) scale(0.97 1)" text-anchor="middle">6</text>
<text class="l" transform="translate(1654.95 2984.56) scale(0.97 1)" text-anchor="middle">12</text>
<text class="l" transform="translate(1779.05 2984.56) scale(0.97 1)" text-anchor="middle">24</text>
</g>
<g id="p20">
<rect class="p" x="1948.24" y="2817.5" width="60.84" height="97.7"/>
<rect class="p" x="1975.86" y="2815.1" width="6.2" height="3.4"/>
<rect class="p" x="1970.06" y="2815.1" width="16.8" height="6.4"/>
<rect class="p" x="2072.97" y="2640.5" width="60.84" height="274.7"/>
<rect class="p" x="2100.59" y="2586.5" width="6.2" height="55"/>
<rect class="p" x="2094.79" y="2586.5" width="16.8" height="6.4"/>
<rect class="p" x="2197.69" y="2594.8" width="60.84" height="320.4"/>
<rect class="p" x="2225.31" y="2528.5" width="6.2" height="67.3"/>
<rect class="p" x="2219.51" y="2528.5" width="16.8" height="6.4"/>
<rect class="p" x="2350.04" y="2906.7" width="6.2" height="9.5"/>
<rect class="p" x="2344.24" y="2906.7" width="16.8" height="6.4"/>
<rect class="f" x="1916.3" y="2425.5" width="498.9" height="489.7"/>
<text class="l" transform="translate(1889.05 2930.21) scale(0.97 1)" text-anchor="end">0</text>
<rect class="k" x="1918.3" y="2813.86" width="16" height="6"/>
<text class="l" transform="translate(1889.05 2832.13) scale(0.97 1)" text-anchor="end">1</text>
<rect class="k" x="1918.3" y="2715.92" width="16" height="6"/>
<text class="l" transform="translate(1889.05 2734.05) scale(0.97 1)" text-anchor="end">2</text>
<rect class="k" x="1918.3" y="2617.98" width="16" height="6"/>
<text class="l" transform="translate(1889.05 2635.97) scale(0.97 1)" text-anchor="end">3</text>
<rect class="k" x="1918.3" y="2520.04" width="16" height="6"/>
<text class="l" transform="translate(1889.05 2537.89) scale(0.97 1)" text-anchor="end">4</text>
<text class="l" transform="translate(1889.05 2439.81) scale(0.97 1)" text-anchor="end">5</text>
<text class="l" transform="translate(1931.8 2473.14) scale(0.97 1)">SSINAC20</text>
<text class="l" transform="translate(1978.16 2985.31) scale(0.97 1)" text-anchor="middle">ck</text>
<text class="l" transform="translate(2102.89 2985.31) scale(0.97 1)" text-anchor="middle">6</text>
<text class="l" transform="translate(2227.61 2985.31) scale(0.97 1)" text-anchor="middle">12</text>
<text class="l" transform="translate(2352.34 2985.31) scale(0.97 1)" text-anchor="middle">24</text>
<text class="s" x="2094.01" y="2596.75">*</text>
<text class="s" x="2218.74" y="2539.85">*</text>
<text class="s" x="2329.6" y="2919.15">**</text>
</g>
<text class="a" transform="translate(64.4 1464.3) rotate(-90)" text-anchor="middle">relative expression (folds)</text>
<text class="a" x="1304.5" y="3078.9" text-anchor="middle">hours post DC3000 treatment</text>
</g></svg></body></html>
